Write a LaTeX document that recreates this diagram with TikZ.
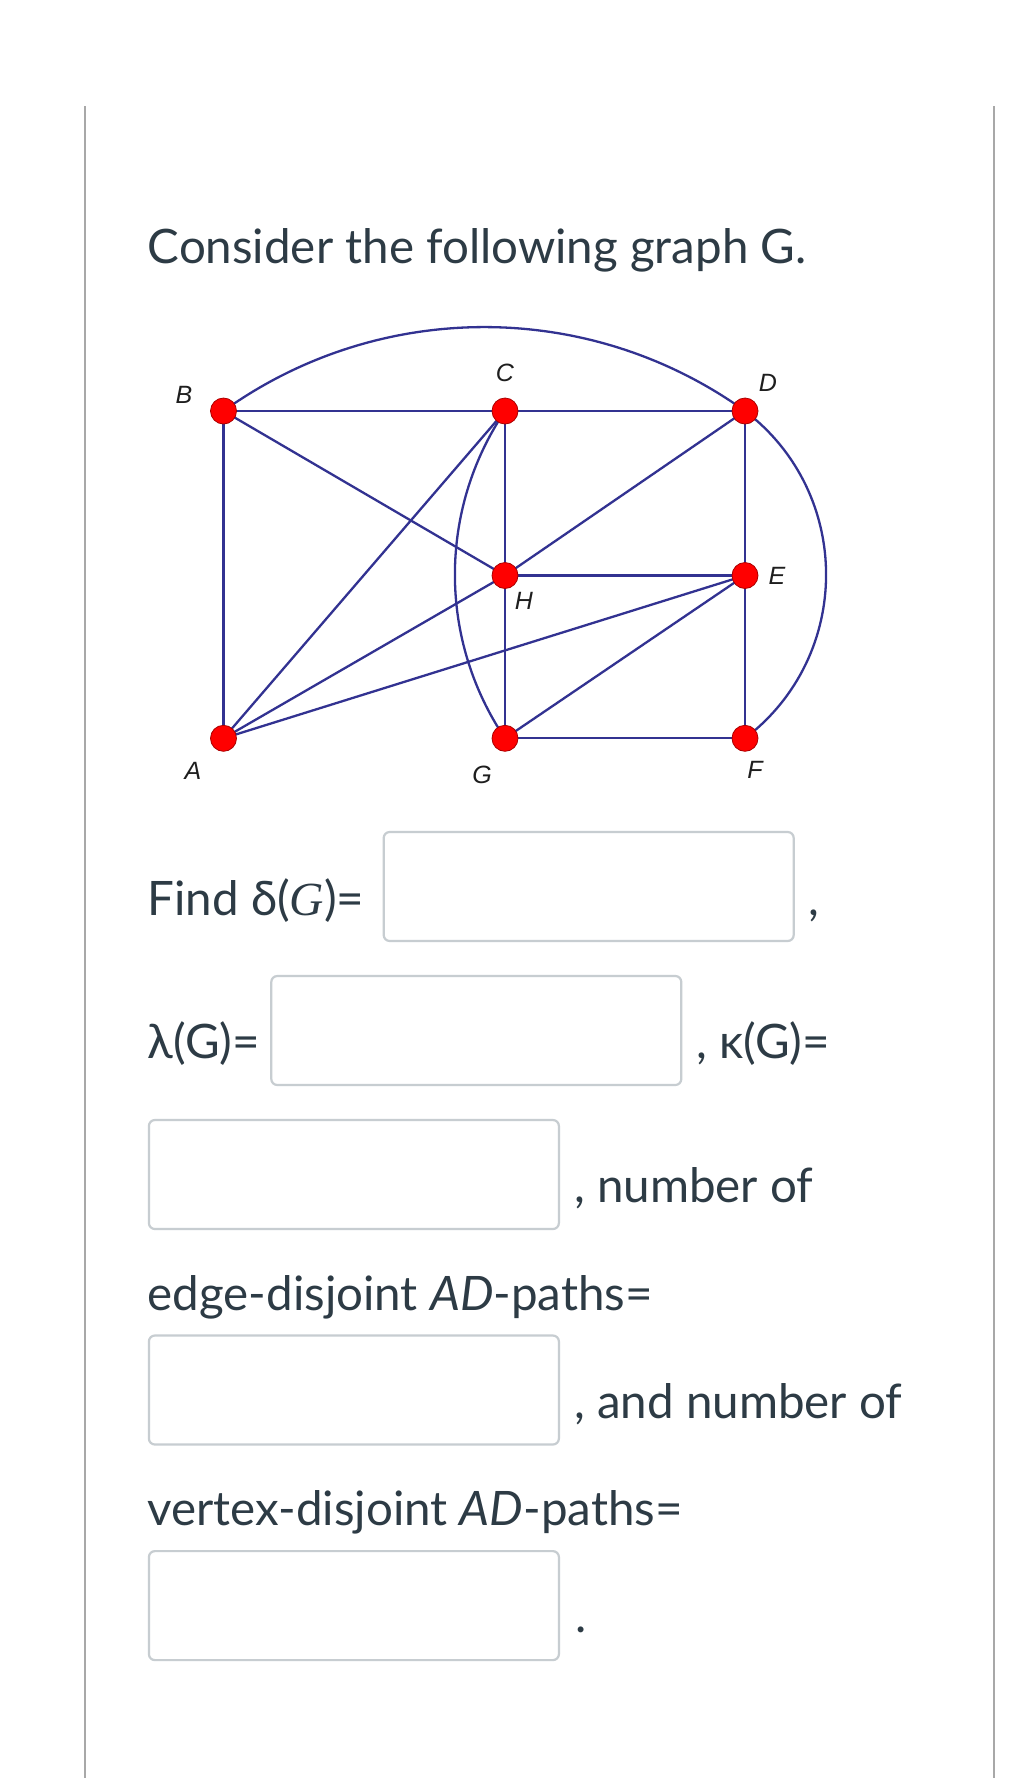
\documentclass[tikz,border=0pt]{standalone}
\usepackage{fontspec}
\setmainfont{Lato}
\newfontfamily\lblfont{Liberation Sans}
\newfontfamily\gserif{Liberation Serif}
\usetikzlibrary{backgrounds}
\definecolor{edgeblue}{RGB}{50,50,145}
\definecolor{vtxred}{RGB}{255,0,0}
\definecolor{vtxrim}{RGB}{170,0,0}
\definecolor{txtcol}{RGB}{45,59,69}
\definecolor{boxcol}{RGB}{199,205,209}
\definecolor{bordercol}{RGB}{168,168,168}
\definecolor{lblcol}{RGB}{30,30,30}
\tikzset{
  vtx/.style={circle, fill=vtxred, draw=vtxrim, line width=0.8pt, minimum size=26pt, inner sep=0pt},
  edge/.style={draw=edgeblue, line width=2.3pt},
  lbl/.style={font=\lblfont\itshape\fontsize{25}{29}\selectfont, text=lblcol, inner sep=0pt},
  txt/.style={font=\fontsize{47.5}{57}\selectfont, text=txtcol, anchor=base west, inner sep=0pt},
  ansbox/.style={draw=boxcol, line width=2.2pt, rounded corners=6pt, fill=white, minimum width=410pt, minimum height=109pt, inner sep=0pt},
  borderline/.style={draw=bordercol, line width=2.8pt}
}
\begin{document}
\begin{tikzpicture}[x=1pt,y=-1pt]
\useasboundingbox (0,0) rectangle (1022,1778);
% vertices
\node[vtx] (A) at (223.5,738.3) {};
\node[vtx] (B) at (223.5,411) {};
\node[vtx] (C) at (505,411) {};
\node[vtx] (D) at (745,411) {};
\node[vtx] (E) at (745,575.5) {};
\node[vtx] (F) at (745,738.3) {};
\node[vtx] (G) at (505,738.3) {};
\node[vtx] (H) at (505,575.5) {};
% vertex labels
\node[lbl] (lA) at (193,771) {A};
\node[lbl] (lB) at (184,395) {B};
\node[lbl] (lC) at (505,373) {C};
\node[lbl] (lD) at (768,383) {D};
\node[lbl] (lE) at (777,576) {E};
\node[lbl] (lF) at (755,770) {F};
\node[lbl] (lG) at (482,775) {G};
\node[lbl] (lH) at (524,601) {H};
\begin{scope}[on background layer]
  \fill[white] (0,0) rectangle (1022,1778);
  \coordinate (lt) at (85,106);
  \coordinate (lb) at (85,1778);
  \coordinate (rt) at (994,106);
  \coordinate (rb) at (994,1778);
  \draw[borderline] (lt) -- (lb);
  \draw[borderline] (rt) -- (rb);
  % straight edges
  \draw[edge] (B.center) -- (C.center);
  \draw[edge] (C.center) -- (D.center);
  \draw[edge] (B.center) -- (A.center);
  \draw[edge] (B.center) -- (H.center);
  \draw[edge] (C.center) -- (H.center);
  \draw[edge] (H.center) -- (G.center);
  \draw[edge] (C.center) -- (A.center);
  \draw[edge] (D.center) -- (E.center);
  \draw[edge] (E.center) -- (F.center);
  \draw[edge] (D.center) -- (H.center);
  \draw[edge] (H.center) -- (E.center);
  \draw[edge] (H.center) -- (A.center);
  \draw[edge] (E.center) -- (A.center);
  \draw[edge] (E.center) -- (G.center);
  \draw[edge] (G.center) -- (F.center);
  % curved edges
  \draw[edge] (B.center) .. controls +(155.8,-111.9) and +(-155.8,-111.9) .. (D.center);
  \draw[edge] (D.center) .. controls +(108.1,82.3) and +(108.1,-82.3) .. (F.center);
  \draw[edge] (C.center) .. controls +(-66.8,99.0) and +(-66.8,-99.0) .. (G.center);
\end{scope}
% text
\node[txt] (t0) at (147.5,263) {Consider the following graph G.};
\node[txt] (t1) at (147.5,915) {Find δ({\gserif\itshape G})=};
\node[ansbox] (b1) at (588.7,886.5) {};
\node[txt] (c1) at (808,915) {,};
\node[txt] (t2) at (147.5,1058) {λ(G)=};
\node[ansbox] (b2) at (476.3,1030.5) {};
\node[txt] (t3) at (696,1058) {, κ(G)=};
\node[ansbox] (b3) at (353.9,1174.5) {};
\node[txt] (t4) at (574,1202) {, number of};
\node[txt] (t5) at (147.5,1310) {edge-disjoint \textit{AD}-paths=};
\node[ansbox] (b4) at (353.9,1390) {};
\node[txt] (t6) at (574,1418) {, and number of};
\node[txt] (t7) at (147.5,1525.6) {vertex-disjoint \textit{AD}-paths=};
\node[ansbox] (b5) at (353.9,1605.6) {};
\node[txt] (t8) at (575,1632) {.};
\end{tikzpicture}
\end{document}
